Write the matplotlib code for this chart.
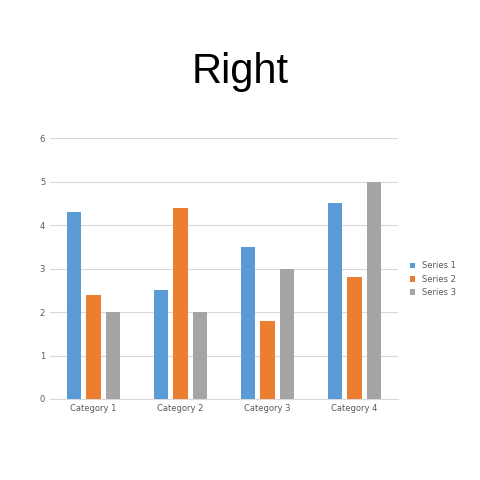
import matplotlib
matplotlib.use("Agg")
import matplotlib.pyplot as plt
import numpy as np

categories = ["Category 1", "Category 2", "Category 3", "Category 4"]
series_names = ["Series 1", "Series 2", "Series 3"]
s1 = [4.3, 2.5, 3.5, 4.5]
s2 = [2.4, 4.4, 1.8, 2.8]
s3 = [2.0, 2.0, 3.0, 5.0]
colors = ["#5B9BD5", "#ED7D31", "#A5A5A5"]

fig = plt.figure(figsize=(4.8, 4.8), dpi=100)
ax = fig.add_axes([50/480, 1-399/480, 348/480, 261/480])
x = np.arange(len(categories))
w = 0.17
gap = 0.225
for i, (vals, name) in enumerate(zip([s1, s2, s3], series_names)):
    ax.bar(x + (i-1)*gap, vals, w, color=colors[i], label=name, zorder=3)
ax.set_xlim(-0.5, 3.5)
ax.set_ylim(0, 6)
ax.set_yticks(range(7))
ax.set_xticks(x)
ax.set_xticklabels(categories)
ax.tick_params(length=0, labelsize=6, colors="#595959")
ax.yaxis.grid(True, color="#D9D9D9", lw=0.8, zorder=0)
for s in ["top", "right", "left"]:
    ax.spines[s].set_visible(False)
ax.spines["bottom"].set_color("#D9D9D9")
fig.text(240/480, 1-72/480, "Right", ha="center", va="center", fontsize=30, family="Liberation Sans")
fig.legend(loc="center left", bbox_to_anchor=(402/480, 1-279/480), frameon=False,
           fontsize=6, handlelength=0.7, handleheight=0.7, labelcolor="#595959")
fig.savefig("out.png", dpi=100)
